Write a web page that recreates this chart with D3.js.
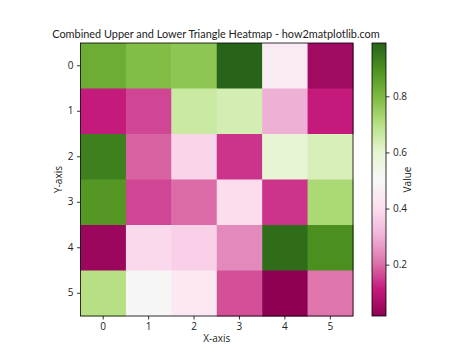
<!DOCTYPE html>
<html><head><meta charset="utf-8">
<script src="https://cdn.jsdelivr.net/npm/d3@7"></script>
<style>
body{margin:0;background:#fff;}
text{font-family:"Open Sans","Noto Sans",sans-serif;fill:#222;}
</style></head>
<body><svg id="c" width="474" height="355"></svg>
<script>
const xCategories = [0,1,2,3,4,5];
const yCategories = [0,1,2,3,4,5];
const row0 = [0.83, 0.79, 0.77, 0.99, 0.45, 0.05];
const row1 = [0.11, 0.16, 0.66, 0.64, 0.30, 0.11];
const row2 = [0.93, 0.19, 0.38, 0.14, 0.59, 0.63];
const row3 = [0.88, 0.16, 0.20, 0.40, 0.14, 0.72];
const row4 = [0.04, 0.39, 0.37, 0.24, 0.97, 0.90];
const row5 = [0.70, 0.50, 0.44, 0.17, 0.017, 0.21];
const rows = [row0,row1,row2,row3,row4,row5];
const colorbarTicks = [0.2,0.4,0.6,0.8];
const titleText = "Combined Upper and Lower Triangle Heatmap - how2matplotlib.com";

const piyg = ["#8e0152","#c51b7d","#de77ae","#f1b6da","#fde0ef","#f7f7f7","#e6f5d0","#b8e186","#7fbc41","#4d9221","#276419"];
const cmap = d3.scaleLinear().domain(piyg.map((_,i)=>i/10)).range(piyg).interpolate(d3.interpolateRgb).clamp(true);

const all = rows.flat();
const vmin = d3.min(all), vmax = d3.max(all);
const norm = d3.scaleLinear().domain([vmin,vmax]).range([0,1]);
const color = v => cmap(norm(v));

const svg = d3.select("#c");
const L=80.5, R=353, T=43, B=316;
const x = d3.scaleBand().domain(xCategories).range([L,R]);
const y = d3.scaleBand().domain(yCategories).range([T,B]);

const cells = [];
rows.forEach((r,i)=>r.forEach((v,j)=>cells.push({i,j,v})));
svg.append("g").selectAll("rect").data(cells).join("rect")
  .attr("x",d=>x(d.j)).attr("y",d=>y(d.i))
  .attr("width",x.bandwidth()+0.5).attr("height",y.bandwidth()+0.5)
  .attr("fill",d=>color(d.v));
svg.append("rect").attr("x",L).attr("y",T).attr("width",R-L).attr("height",B-T)
  .attr("fill","none").attr("stroke","#000").attr("stroke-width",0.8);

const xAxis = svg.append("g").attr("transform",`translate(0,${B})`)
  .call(d3.axisBottom(x).tickSize(3.5).tickPadding(3.5));
const yAxis = svg.append("g").attr("transform",`translate(${L},0)`)
  .call(d3.axisLeft(y).tickSize(3.5).tickPadding(3.5));
[xAxis,yAxis].forEach(a=>{a.select(".domain").remove();a.selectAll("line").attr("stroke","#000").attr("stroke-width",0.8);
  a.selectAll("text").attr("font-size",10).attr("font-family",'"Open Sans",sans-serif').attr("fill","#222");});

svg.append("text").attr("x",(L+R)/2).attr("y",342).attr("text-anchor","middle").attr("font-size",10).text("X-axis");
svg.append("text").attr("transform",`translate(62,${(T+B)/2}) rotate(-90)`).attr("text-anchor","middle").attr("font-size",10).text("Y-axis");

const title = svg.append("text").attr("x",216).attr("y",38).attr("text-anchor","middle")
  .attr("font-size",12).style("font-family","Lato, 'Open Sans', sans-serif").text(titleText);
const tw = title.node().getComputedTextLength();
title.attr("font-size",12*328/tw);

// colorbar
const cbL=372, cbR=386;
const cb = d3.scaleLinear().domain([vmin,vmax]).range([B,T]);
const defs = svg.append("defs");
const grad = defs.append("linearGradient").attr("id","g").attr("x1",0).attr("y1",1).attr("x2",0).attr("y2",0);
d3.range(0,1.0001,0.02).forEach(t=>grad.append("stop").attr("offset",t).attr("stop-color",cmap(t)));
svg.append("rect").attr("x",cbL).attr("y",T).attr("width",cbR-cbL).attr("height",B-T).attr("fill","url(#g)")
  .attr("stroke","#000").attr("stroke-width",0.8);
const cbAxis = svg.append("g").attr("transform",`translate(${cbR},0)`)
  .call(d3.axisRight(cb).tickValues(colorbarTicks).tickFormat(d3.format(".1f")).tickSize(3.5).tickPadding(3.5));
cbAxis.select(".domain").remove();
cbAxis.selectAll("line").attr("stroke","#000").attr("stroke-width",0.8);
cbAxis.selectAll("text").attr("font-size",10).attr("font-family",'"Open Sans",sans-serif').attr("fill","#222");
svg.append("text").attr("transform",`translate(411,${(T+B)/2}) rotate(-90)`).attr("text-anchor","middle").attr("font-size",10).text("Value");
</script></body></html>
